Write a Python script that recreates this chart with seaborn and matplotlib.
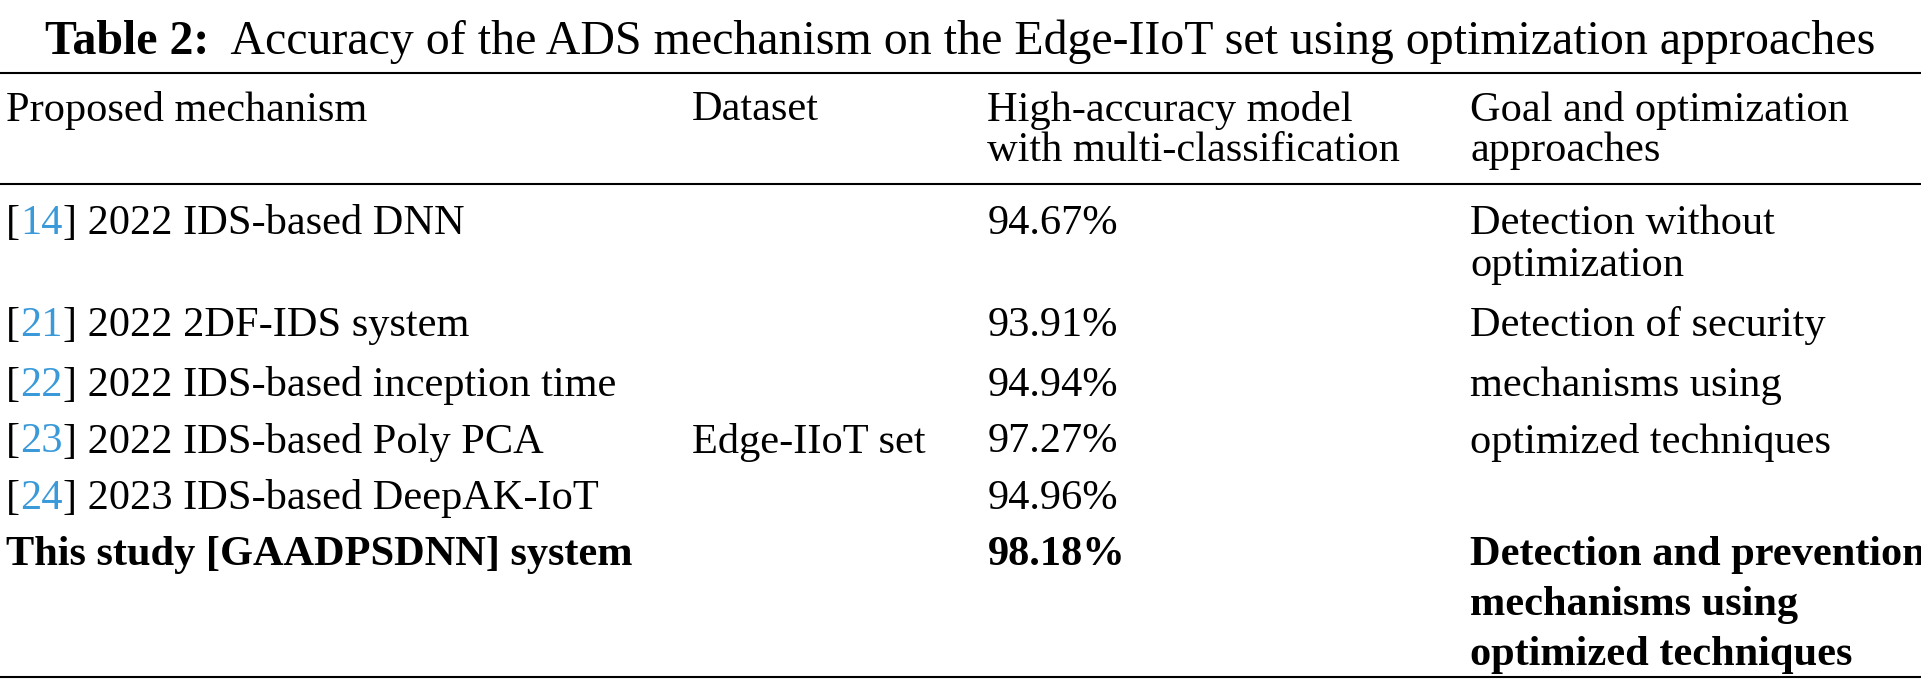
import matplotlib
matplotlib.use("Agg")
import matplotlib.pyplot as plt
import seaborn as sns

sns.set_theme(style="white")
plt.rcParams['font.family'] = ['Liberation Serif', 'DejaVu Serif']

TITULO_NUM = "Table 2:"
TITULO = "  Accuracy of the ADS mechanism on the Edge-IIoT set using optimization approaches"
ENCABEZADOS = [["Proposed mechanism"], ["Dataset"],
               ["High-accuracy model", "with multi-classification"],
               ["Goal and optimization", "approaches"]]
REFS = ["14", "21", "22", "23", "24"]
MECANISMOS = ["2022 IDS-based DNN", "2022 2DF-IDS system", "2022 IDS-based inception time",
              "2022 IDS-based Poly PCA", "2023 IDS-based DeepAK-IoT"]
PRECISION = ["94.67%", "93.91%", "94.94%", "97.27%", "94.96%"]
DATASET = "Edge-IIoT set"
ESTUDIO = "This study [GAADPSDNN] system"
ESTUDIO_ACC = "98.18%"
METAS = ["Detection without", "optimization", "Detection of security",
         "mechanisms using", "optimized techniques"]
META_ESTUDIO = ["Detection and prevention", "mechanisms using", "optimized techniques"]

W, H = 1568, 561  # coordenadas de referencia
fig = plt.figure(figsize=(19.21, 6.87), dpi=100)
ax = fig.add_axes([0, 0, 1, 1])
ax.set_xlim(0, W)
ax.set_ylim(H, 0)
ax.axis('off')
FS = 30.5
COLX = [5, 565, 806, 1200]
AZUL = '#3a9ad9'
r = fig.canvas.get_renderer()


def txt(x, y, s, fs=FS, **kw):
    kw.setdefault('color', 'black')
    return ax.text(x, y, s, fontsize=fs, va='center', ha='left', **kw)


def ancho(t):
    bb = t.get_window_extent(renderer=r)
    return bb.width * W / fig.bbox.width


# titulo
t1 = txt(0, 34, TITULO_NUM, fs=34.5, fontweight='bold')
t2 = txt(0, 34, TITULO, fs=34.5)
total = ancho(t1) + ancho(t2)
x0 = (W - total) / 2
t1.set_x(x0)
t2.set_x(x0 + ancho(t1))

for y in [60, 150, 553]:
    ax.plot([0, W], [y, y], color='black', lw=1.5)

for x, lineas in zip(COLX, ENCABEZADOS):
    for i, l in enumerate(lineas):
        txt(x, 90 + 33 * i, l)

filas_y = [183, 266, 315, 361, 407]
for y, ref, mec, acc in zip(filas_y, REFS, MECANISMOS, PRECISION):
    a = txt(COLX[0], y, "[")
    b = txt(COLX[0] + ancho(a), y, ref, color=AZUL)
    txt(COLX[0] + ancho(a) + ancho(b), y, "] " + mec)
    txt(COLX[2], y, acc)

for y, m in zip([183, 217, 266, 315, 361], METAS):
    txt(COLX[3], y, m)
txt(COLX[1], 361, DATASET)

txt(COLX[0], 453, ESTUDIO, fontweight='bold')
txt(COLX[2], 453, ESTUDIO_ACC, fontweight='bold')
for y, m in zip([453, 494, 535], META_ESTUDIO):
    txt(COLX[3], y, m, fontweight='bold')

fig.savefig("out.png", dpi=100, facecolor='white')
